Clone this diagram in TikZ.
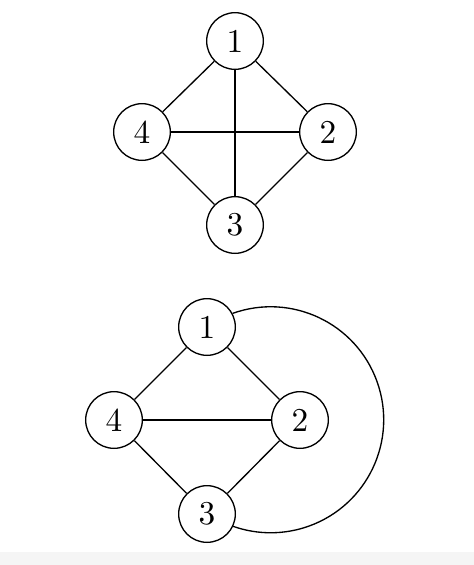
\documentclass[tikz,border=0pt]{standalone}
\begin{document}
\begin{tikzpicture}[x=0.3pt,y=-0.3pt,
  vertex/.style={circle,draw,line width=0.4pt,minimum size=17pt,inner sep=0pt,font=\normalsize},
  edge/.style={line width=0.4pt}]
\useasboundingbox (0,0) rectangle (474,565);
\fill[black!4] (0,552) rectangle (474,565);
% top graph
\node[vertex] (a1) at (235,41) {1};
\node[vertex] (a2) at (328,132) {2};
\node[vertex] (a3) at (235,225) {3};
\node[vertex] (a4) at (142,132) {4};
\draw[edge] (a1) -- (a2);
\draw[edge] (a2) -- (a3);
\draw[edge] (a3) -- (a4);
\draw[edge] (a4) -- (a1);
\draw[edge] (a1) -- (a3);
\draw[edge] (a4) -- (a2);
% bottom graph
\node[vertex] (b1) at (207,327) {1};
\node[vertex] (b2) at (300,420) {2};
\node[vertex] (b3) at (207,514) {3};
\node[vertex] (b4) at (114,420) {4};
\draw[edge] (b1) -- (b2);
\draw[edge] (b2) -- (b3);
\draw[edge] (b3) -- (b4);
\draw[edge] (b4) -- (b1);
\draw[edge] (b4) -- (b2);
\draw[edge] (b1.28) arc[start angle=-109.7, end angle=109.4, radius=113];
\end{tikzpicture}
\end{document}
